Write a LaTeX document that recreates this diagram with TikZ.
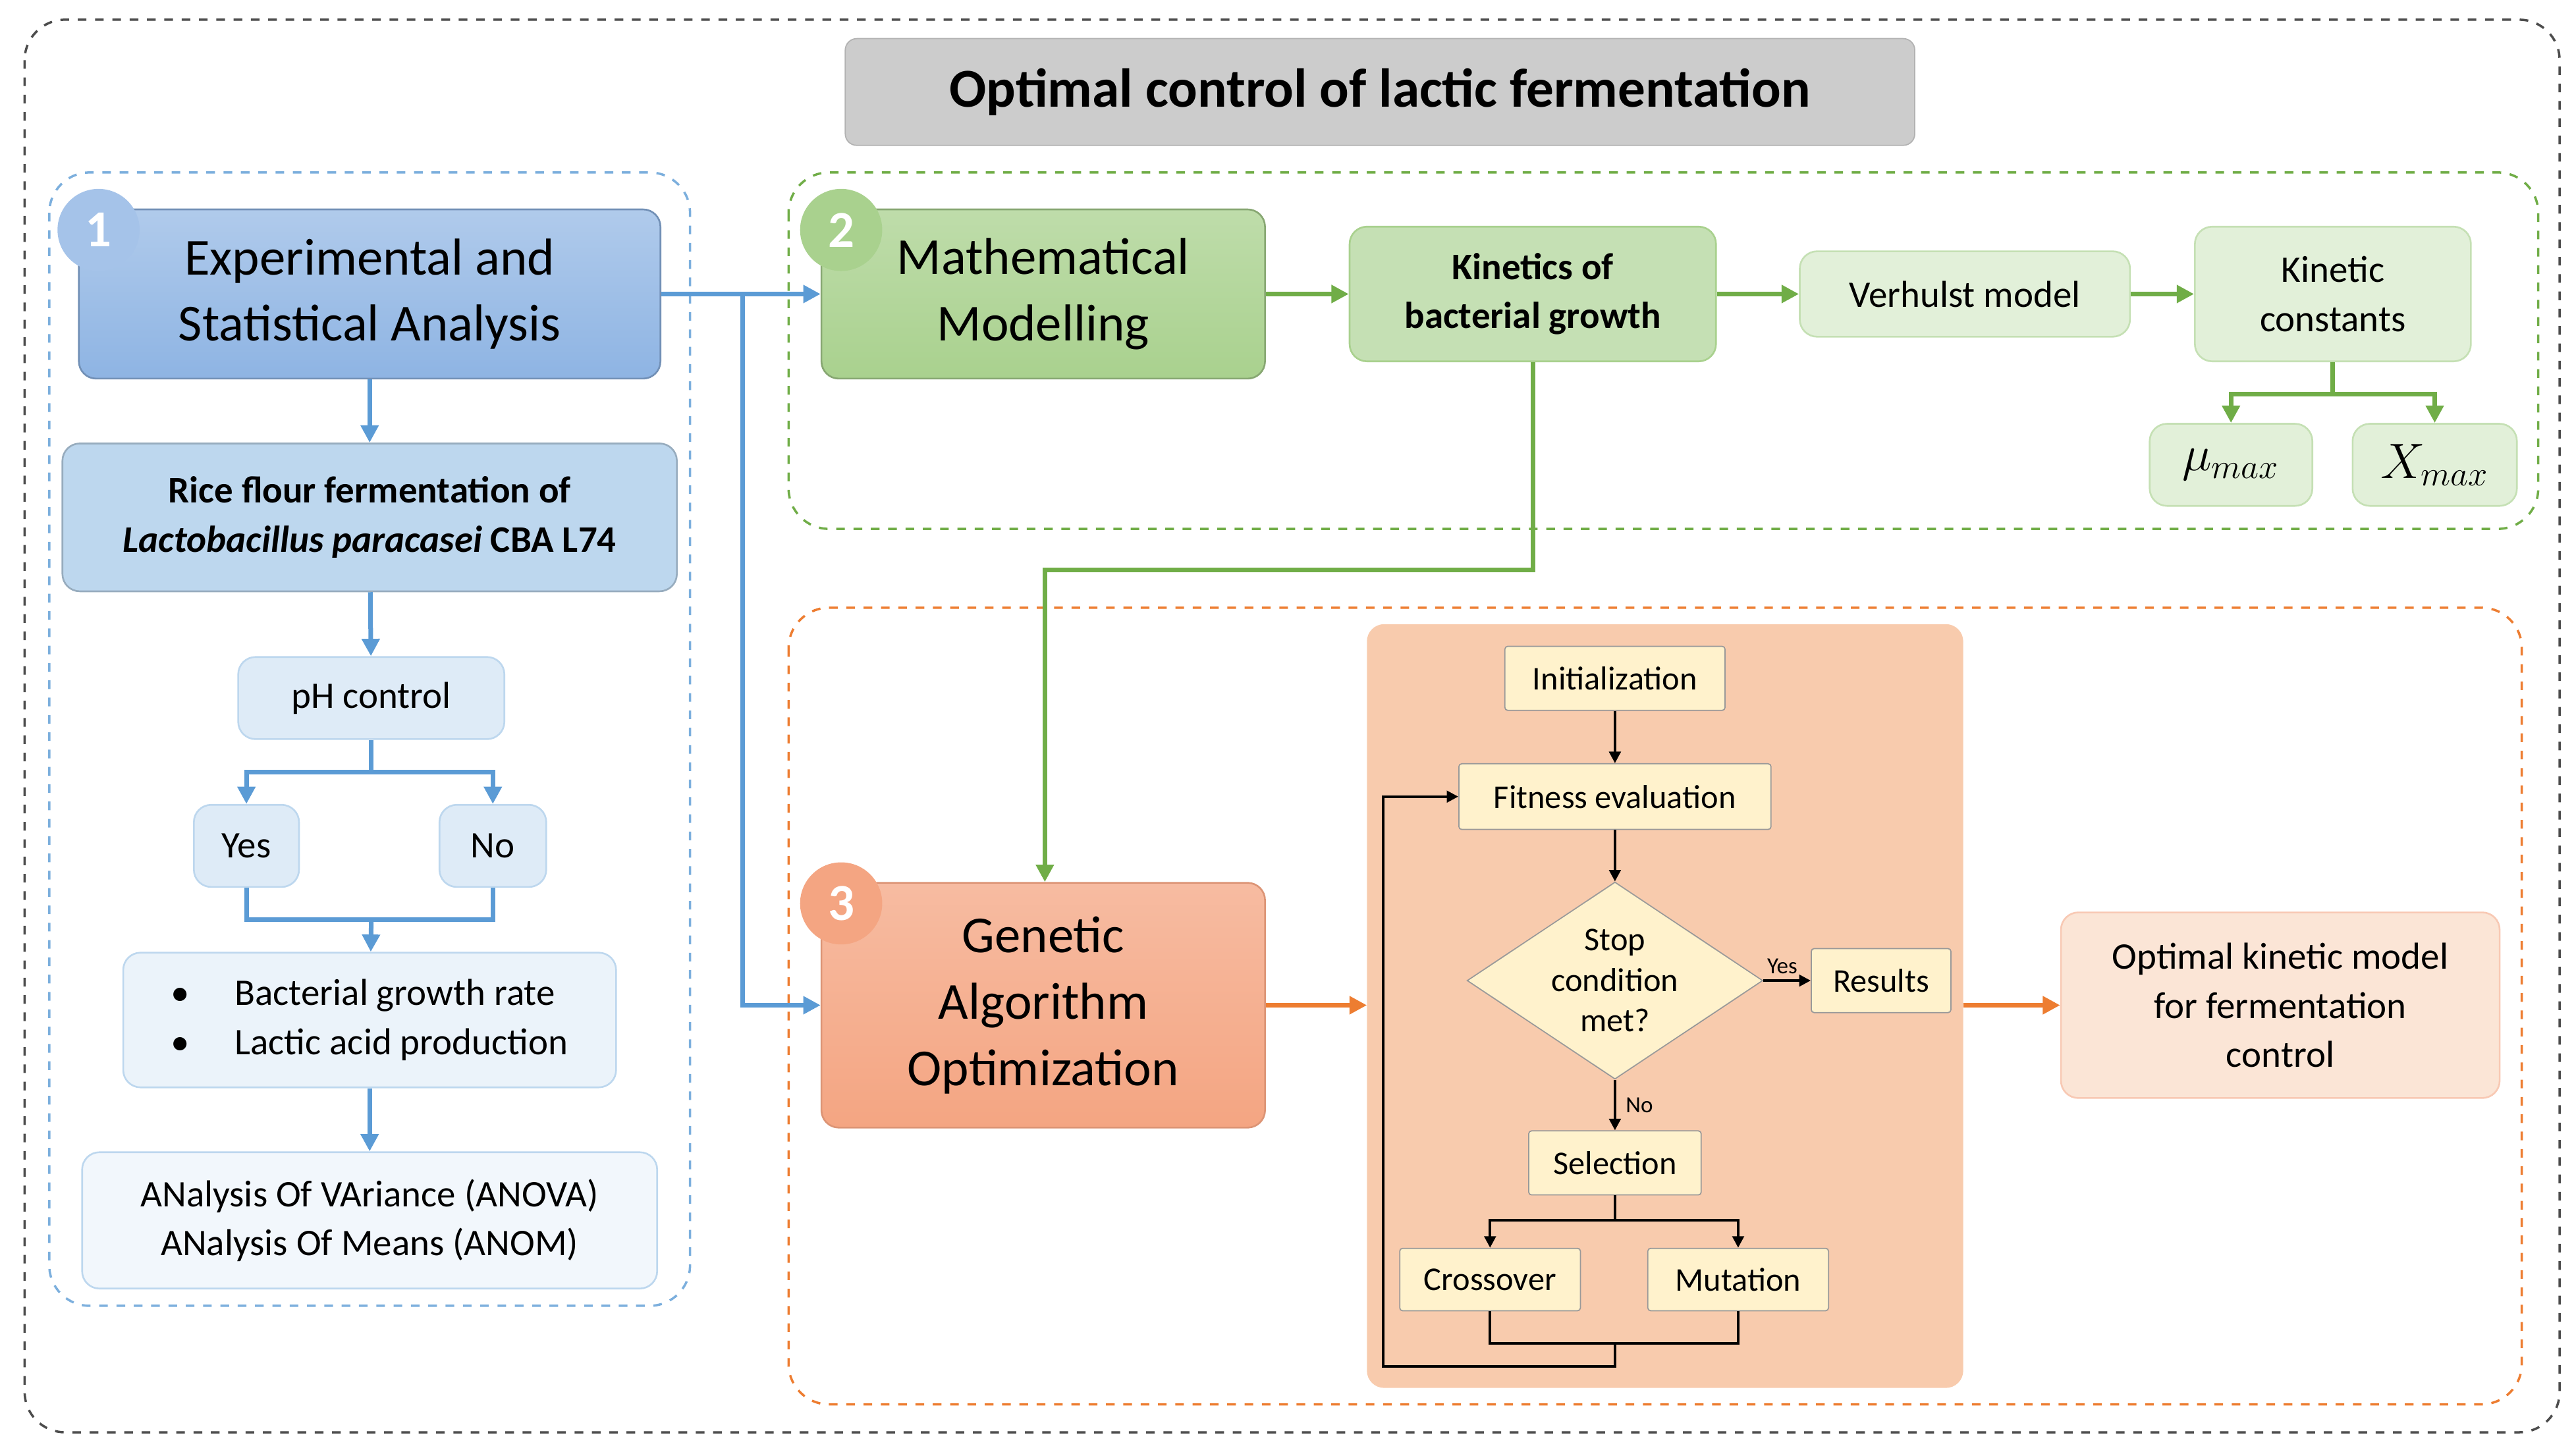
\documentclass[tikz,border=0pt]{standalone}
\usepackage{fontspec}
\setmainfont{Carlito}
\usetikzlibrary{shapes.geometric,arrows.meta}
\definecolor{bA}{HTML}{8EB4E3}
\definecolor{bB}{HTML}{BDD7EE}
\definecolor{bC}{HTML}{DEEBF7}
\definecolor{bL}{HTML}{5B9BD5}
\definecolor{gA}{HTML}{A9D18E}
\definecolor{gB}{HTML}{C5E0B4}
\definecolor{gC}{HTML}{E2F0D9}
\definecolor{gL}{HTML}{70AD47}
\definecolor{oA}{HTML}{F4A582}
\definecolor{oB}{HTML}{F8CBAD}
\definecolor{oC}{HTML}{FBE5D6}
\definecolor{oL}{HTML}{ED7D31}
\definecolor{yC}{HTML}{FFF2CC}
\tikzset{
  sz/.style 2 args={minimum width=#1*0.02cm, minimum height=#2*0.02cm, inner sep=1pt, align=center},
  box/.style={rectangle, rounded corners=6pt, draw=#1, line width=0.6pt},
  flow/.style={rectangle, draw=black!40, fill=yC, rounded corners=1pt, font=\fontsize{11.5}{13}\selectfont},
  num/.style={circle, minimum size=1cm, fill=#1, text=white, font=\bfseries\fontsize{18}{20}\selectfont},
  region/.style={draw=#1, dashed, rounded corners=14pt, line width=0.8pt},
  barr/.style={draw=bL, line width=1.6pt, -{Triangle[length=6pt,width=6pt]}},
  garr/.style={draw=gL, line width=1.6pt, -{Triangle[length=6pt,width=6pt]}},
  oarr/.style={draw=oL, line width=1.6pt, -{Triangle[length=6pt,width=6pt]}},
  karr/.style={draw=black, line width=0.9pt, -{Triangle[length=4pt,width=4pt]}},
  big/.style={font=\fontsize{18}{23}\selectfont},
  med/.style={font=\fontsize{13}{17}\selectfont},
}
\begin{document}
\begin{tikzpicture}[x=0.02cm, y=-0.02cm]
\useasboundingbox (0,0) rectangle (1568,885);
% regions
\draw[region=black!70] (15,12) rectangle (1558,872);
\draw[region=bL!80] (30,105) rectangle (420,795);
\draw[region=gL] (480,105) rectangle (1545,322);
\draw[region=oL] (480,370) rectangle (1535,855);
\fill[oB, rounded corners=6pt] (832,380) rectangle (1195,845);
% title
\node[sz={651}{65}, rectangle, rounded corners=4pt, fill=black!20, draw=black!30, font=\bfseries\fontsize{19}{22}\selectfont] (title) at (840,56) {Optimal control of lactic fermentation};
% column 1
\node[sz={354}{103}, box=bA!80!black, top color=bA!70, bottom color=bA, big] (exp) at (225,179) {Experimental and\\Statistical Analysis};
\node[num=bA!80] (n1) at (60,140) {1};
\node[sz={374}{90}, box=bB!80!black, fill=bB, font=\bfseries\fontsize{13}{17}\selectfont] (rice) at (225,315) {Rice flour fermentation of\\\textit{Lactobacillus paracasei} CBA L74};
\node[sz={162}{50}, box=bB, fill=bC, med] (ph) at (226,425) {pH control};
\node[sz={64}{50}, box=bB, fill=bC, med] (yes) at (150,515) {Yes};
\node[sz={65}{50}, box=bB, fill=bC, med] (no) at (300,515) {No};
\node[sz={300}{82}, box=bB, fill=bC!60, med, align=left] (bul) at (225,621) {\textbullet\hspace{1.2em}Bacterial growth rate\\\textbullet\hspace{1.2em}Lactic acid production};
\node[sz={350}{83}, box=bB, fill=bC!40, med] (anova) at (225,743) {ANalysis Of VAriance (ANOVA)\\ANalysis Of Means (ANOM)};
% column 2
\node[sz={270}{103}, box=gA!80!black, top color=gA!75, bottom color=gA, big] (math) at (635,179) {Mathematical\\Modelling};
\node[num=gA] (n2) at (512,140) {2};
\node[sz={223}{82}, box=gA, fill=gB, font=\bfseries\fontsize{13}{17}\selectfont] (kin) at (933,179) {Kinetics of\\bacterial growth};
\node[sz={201}{52}, box=gB, fill=gC, med] (verh) at (1196,179) {Verhulst model};
\node[sz={168}{82}, box=gB, fill=gC, med] (kc) at (1420,179) {Kinetic\\constants};
\node[sz={99}{50}, box=gB, fill=gC, font=\fontsize{17}{20}\selectfont] (mu) at (1358,283) {$\mu_{max}$};
\node[sz={100}{50}, box=gB, fill=gC, font=\fontsize{17}{20}\selectfont] (xm) at (1482,283) {$X_{max}$};
% column 3
\node[sz={270}{149}, box=oA!90!black, top color=oA!75, bottom color=oA, big] (ga) at (635,612) {Genetic\\Algorithm\\Optimization};
\node[num=oA] (n3) at (512,550) {3};
\node[sz={134}{39}, flow] (init) at (983,413) {Initialization};
\node[sz={190}{40}, flow] (fit) at (983,485) {Fitness evaluation};
\node[diamond, aspect=1.5, minimum width=180*0.02cm, minimum height=120*0.02cm, inner sep=0pt, draw=black!40, fill=yC, align=center, font=\fontsize{11.5}{14}\selectfont] (stop) at (983,597) {Stop\\condition\\met?};
\node[sz={85}{39}, flow] (res) at (1145,597) {Results};
\node[sz={105}{39}, flow] (sel) at (983,708) {Selection};
\node[sz={110}{38}, flow] (cross) at (907,779) {Crossover};
\node[sz={110}{38}, flow] (mut) at (1058,779) {Mutation};
\node[sz={267}{113}, box=oA!60, fill=oC, med] (opt) at (1388,612) {Optimal kinetic model\\for fermentation\\control};
% blue connectors
\draw[barr] (exp) -- (rice);
\draw[barr] (rice) -- (ph);
\draw[bL, line width=1.6pt] (ph.south) -- (226,470) coordinate (phb);
\draw[barr] (phb) -| (yes);
\draw[barr] (phb) -| (no);
\draw[bL, line width=1.6pt] (yes.south) |- (226,560) coordinate (ynb) -| (no.south);
\draw[barr] (ynb) -- (bul);
\draw[barr] (bul) -- (anova);
\draw[barr] (exp.east) -- (math.west);
\draw[barr] (452,179) |- (ga.west);
% green connectors
\draw[garr] (math) -- (kin);
\draw[garr] (kin) -- (verh);
\draw[garr] (verh) -- (kc);
\draw[gL, line width=1.6pt] (kc.south) -- (1420,240) coordinate (kcb);
\draw[garr] (kcb) -| (mu);
\draw[garr] (kcb) -| (xm);
\draw[garr] (kin.south) |- (636,347) -- (ga.north -| 636,0);
% orange connectors
\draw[oarr] (ga.east) -- (832,612);
\draw[oarr] (1195,612) -- (opt.west);
% flow connectors
\draw[karr] (init) -- (fit);
\draw[karr] (fit) -- (stop);
\draw[karr] (stop) -- node[above, font=\fontsize{8}{9}\selectfont, inner sep=2pt, pos=0.4] {Yes} (res);
\draw[karr] (stop) -- node[right, font=\fontsize{8}{9}\selectfont] {No} (sel);
\draw[line width=0.9pt] (sel.south) -- (983,743) coordinate (selb);
\draw[karr] (selb) -| (cross);
\draw[karr] (selb) -| (mut);
\draw[line width=0.9pt] (cross.south) |- (983,818) coordinate (cmb) -| (mut.south);
\draw[karr] (cmb) -- (983,832) -| (842,485) -- (fit.west);
\end{tikzpicture}
\end{document}
